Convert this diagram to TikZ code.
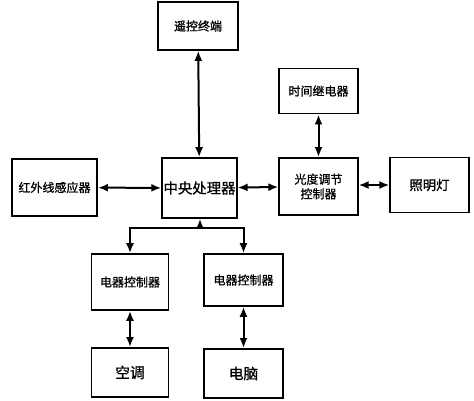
\documentclass[tikz,border=0pt]{standalone}
\usepackage{fontspec}
\newfontfamily\cjk[FakeBold=1]{Noto Sans CJK SC}
\usepackage{tikz}
\usetikzlibrary{positioning,arrows.meta}

\tikzset{
  blk/.style={draw, line width=1.2pt, inner sep=0pt, font=\cjk\fontsize{9}{11}\selectfont, align=center},
  link/.style={line width=1.5pt, {Latex[length=7.5pt,width=6pt]}-{Latex[length=7.5pt,width=6pt]}},
  tip/.style={line width=1.5pt, -{Latex[length=7.5pt,width=6pt]}}
}

\begin{document}
\begin{tikzpicture}[x=0.75pt,y=0.75pt,yscale=-1,xscale=1]
\useasboundingbox (0,0) rectangle (474,400);

% Blocks
\node [blk, minimum width=60pt, minimum height=36pt] (remote) at (198,26) {遥控终端};
\node [blk, minimum width=59pt, minimum height=34pt] (relay) at (318.5,91) {时间继电器};
\node [blk, minimum width=64pt, minimum height=43pt] (ir) at (54.5,187.5) {红外线感应器};
\node [blk, minimum width=56pt, minimum height=45pt, font=\cjk\fontsize{10.8}{13}\selectfont] (cpu) at (199.5,188) {中央处理器};
\node [blk, minimum width=59pt, minimum height=43pt] (dimmer) at (318.5,186.5) {光度调节\\控制器};
\node [blk, minimum width=59pt, minimum height=41pt, font=\cjk\fontsize{10}{12}\selectfont] (lamp) at (429.5,185) {照明灯};
\node [blk, minimum width=58pt, minimum height=42pt] (ctrlA) at (130,282) {电器控制器};
\node [blk, minimum width=59pt, minimum height=39pt] (ctrlB) at (243.5,280) {电器控制器};
\node [blk, minimum width=58pt, minimum height=37pt, font=\cjk\fontsize{11}{13}\selectfont] (ac) at (130,372.5) {空调};
\node [blk, minimum width=59pt, minimum height=37pt, font=\cjk\fontsize{11}{13}\selectfont] (pc) at (243.5,373.5) {电脑};

% Connectors
\draw [link] (remote) -- (cpu);
\draw [link] (relay) -- (dimmer);
\draw [link] (ir) -- (cpu);
\draw [link] (cpu) -- (dimmer);
\draw [link] (dimmer.east |- lamp.west) -- (lamp);
\coordinate (split) at (200,228);
\draw [tip] (split) -- (split |- cpu.south);
\draw [tip] (split) -| (ctrlA);
\draw [tip] (split) -| (ctrlB);
\draw [link] (ctrlA) -- (ac);
\draw [link] (ctrlB) -- (pc);

\end{tikzpicture}
\end{document}
